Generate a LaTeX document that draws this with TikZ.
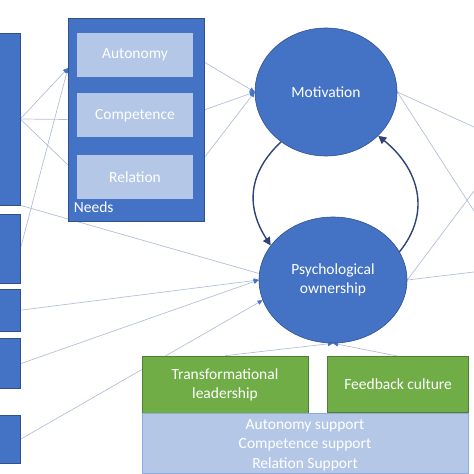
\documentclass[tikz,border=0pt]{standalone}
\usepackage{fontspec}
\setmainfont{Carlito}
\usetikzlibrary{calc,positioning}
\usetikzlibrary{arrows.meta}
\usetikzlibrary{backgrounds,shapes}
\definecolor{offblue}{HTML}{4472C4}
\definecolor{offdark}{HTML}{2F528F}
\definecolor{offlight}{HTML}{B4C7E7}
\definecolor{suppedge}{HTML}{8FAADC}
\definecolor{offgreen}{HTML}{70AD47}
\definecolor{greenedge}{HTML}{507E32}
\definecolor{linegray}{RGB}{180,192,215}
\definecolor{arcnavy}{HTML}{2F4378}

\begin{document}
\begin{tikzpicture}[x=1pt,y=1pt,
  every node/.style={font=\fontsize{15.5}{19}\selectfont,text=white,inner sep=0pt},
  side/.style={draw=offdark,fill=offblue,minimum width=30,line width=.6pt},
  need/.style={fill=offlight,minimum width=116,minimum height=44},
  bubble/.style={ellipse,draw=offdark,fill=offblue,line width=.6pt,align=center},
  greenbox/.style={draw=greenedge,fill=offgreen,line width=.6pt,align=center},
  conn/.style={draw=linegray,line width=.7pt},
  arr/.style={-{Triangle[length=5pt,width=4.5pt,color=offblue]}},
  navyarc/.style={draw=arcnavy,line width=1.4pt,looseness=1.12,
    -{Triangle[length=8pt,width=8pt]}}]
\useasboundingbox (0,0) rectangle (474,474);
% left column, cut by the edge
\node[side,minimum height=172] (la) at (5,355) {};
\node[side,minimum height=69,below=9pt of la] (lb) {};
\node[side,minimum height=42,below=5pt of lb] (lc) {};
\node[side,minimum height=50,below=7pt of lc] (ld) {};
\node[side,minimum height=48,below=26pt of ld] (le) {};
% needs
\node[side,minimum width=136,minimum height=203] (needs) at (136,354.5) {};
\node[need] (auto) at (135,419) {Autonomy};
\node[need,below=16pt of auto] (comp) {Competence};
\node[need,below=17pt of comp] (rel) {Relation};
\node[anchor=south west] (nlab) at ($(needs.south west)+(6,8)$) {Needs};
% outcomes
\node[bubble,minimum width=142,minimum height=128] (mot) at (326,382) {Motivation};
\node[bubble,minimum width=148,minimum height=126] (own) at (333,194)
{Psychological\\ownership};
% context
\node[greenbox,minimum width=166,minimum height=57] (trans) at (225,89.5)
{Transformational\\leadership};
\node[greenbox,minimum width=141,minimum height=56,right=19pt of trans] (fb)
{Feedback culture};
\node[draw=suppedge,fill=offlight,line width=.6pt,
minimum width=326,minimum height=60] (supp) at (305,31) {};
\node[align=center,font=\fontsize{15.5}{19.5}\selectfont] (supptxt)
at ($(supp.center)+(0,-2)$)
{Autonomy support\\Competence support\\Relation Support};
\draw[navyarc] (mot.228) to[out=223,in=123] (own.151);
\draw[navyarc] (own.23) to[out=51,in=321] (mot.320);
\begin{scope}[on background layer]
\coordinate (nA) at (68,406);
\coordinate (nC) at (68,309);
\coordinate (nR1) at (204,412);
\coordinate (nR2) at (204,364);
\coordinate (nR3) at (204,316);
\coordinate (r1) at (474,347);
\coordinate (r2) at (474,263);
\coordinate (r3) at (474,283);
\coordinate (r4) at (474,202);
\draw[conn,arr] (la.east) -- (nA);
\draw[conn] (la.east) -- (needs.west);
\draw[conn] (la.east) -- (nC);
\draw[conn,arr] (lb.east) -- (nA);
\draw[conn] (la.south east) -- (own.175);
\draw[conn,arr] (lc.east) -- (own.west);
\draw[conn,arr] (ld.east) -- (own.west);
\draw[conn,arr] (le.east) -- (own.196);
\draw[conn,arr] (nR1) -- (mot.west);
\draw[conn,arr] (nR2) -- (mot.west);
\draw[conn,arr] (nR3) -- (mot.west);
\draw[conn,arr] (trans.north) -- (own.south);
\draw[conn,arr] (fb.north) -- (own.south);
\draw[conn] (mot.east) -- (r1);
\draw[conn] (mot.east) -- (r2);
\draw[conn] (own.east) -- (r3);
\draw[conn] (own.east) -- (r4);
\end{scope}
\end{tikzpicture}
\end{document}
